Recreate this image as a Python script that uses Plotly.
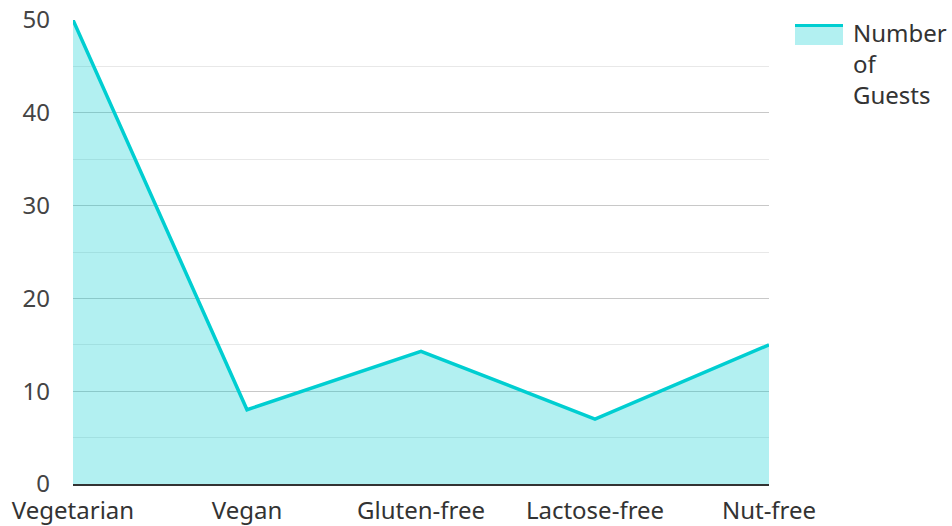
import plotly.graph_objects as go

categories = ["Vegetarian", "Vegan", "Gluten-free", "Lactose-free", "Nut-free"]
guests = [50, 8, 14.3, 7, 15]
series_name = "Number<br>of<br>Guests"

LINE = "#00CED1"
FILL = "rgba(0,206,209,0.3)"

L, R, T, B = 73, 183, 20, 42
W, H = 952, 526
PW, PH = W - L - R, H - T - B


def px_x(p):
    return (p - L) / PW


def px_y(p):
    return (H - B - p) / PH


fig = go.Figure()
fig.add_trace(go.Scatter(
    x=categories, y=guests, name=series_name, mode="lines",
    line=dict(color=LINE, width=3.5),
    fill="tozeroy", fillcolor=FILL, showlegend=False,
))

# legend drawn manually (line on top of fill swatch)
fig.add_shape(type="rect", xref="paper", yref="paper",
              x0=px_x(795), x1=px_x(843), y0=px_y(45), y1=px_y(26),
              fillcolor=FILL, line=dict(width=0))
fig.add_shape(type="line", xref="paper", yref="paper",
              x0=px_x(795), x1=px_x(843), y0=px_y(25.5), y1=px_y(25.5),
              line=dict(color=LINE, width=3))
fig.add_annotation(xref="paper", yref="paper", x=px_x(851), y=px_y(14),
                   xanchor="left", yanchor="top", align="left", showarrow=False,
                   text=series_name, font=dict(size=24, color="#333"))

fig.update_layout(
    width=W, height=H,
    margin=dict(l=L, r=R, t=T, b=B, autoexpand=False),
    paper_bgcolor="white", plot_bgcolor="white",
    font=dict(family="Noto Sans", size=24, color="#444"),
    showlegend=False,
)
fig.update_xaxes(range=[0, 4], showgrid=False, showline=True, linecolor="#333", linewidth=2,
                 ticks="", automargin=False, ticklabelstandoff=4,
                 tickfont=dict(size=24, color="#333"))
fig.update_yaxes(range=[0, 50], dtick=10, showgrid=True, gridcolor="#c8c8c8", gridwidth=1,
                 zeroline=False, ticks="", automargin=False, ticklabelstandoff=22,
                 tickfont=dict(size=24, color="#444"),
                 minor=dict(dtick=5, showgrid=True, gridcolor="#e8e8e8", gridwidth=1))

fig.write_html("out.html", config={"displayModeBar": False},
               post_script="document.body.style.margin='0';")
